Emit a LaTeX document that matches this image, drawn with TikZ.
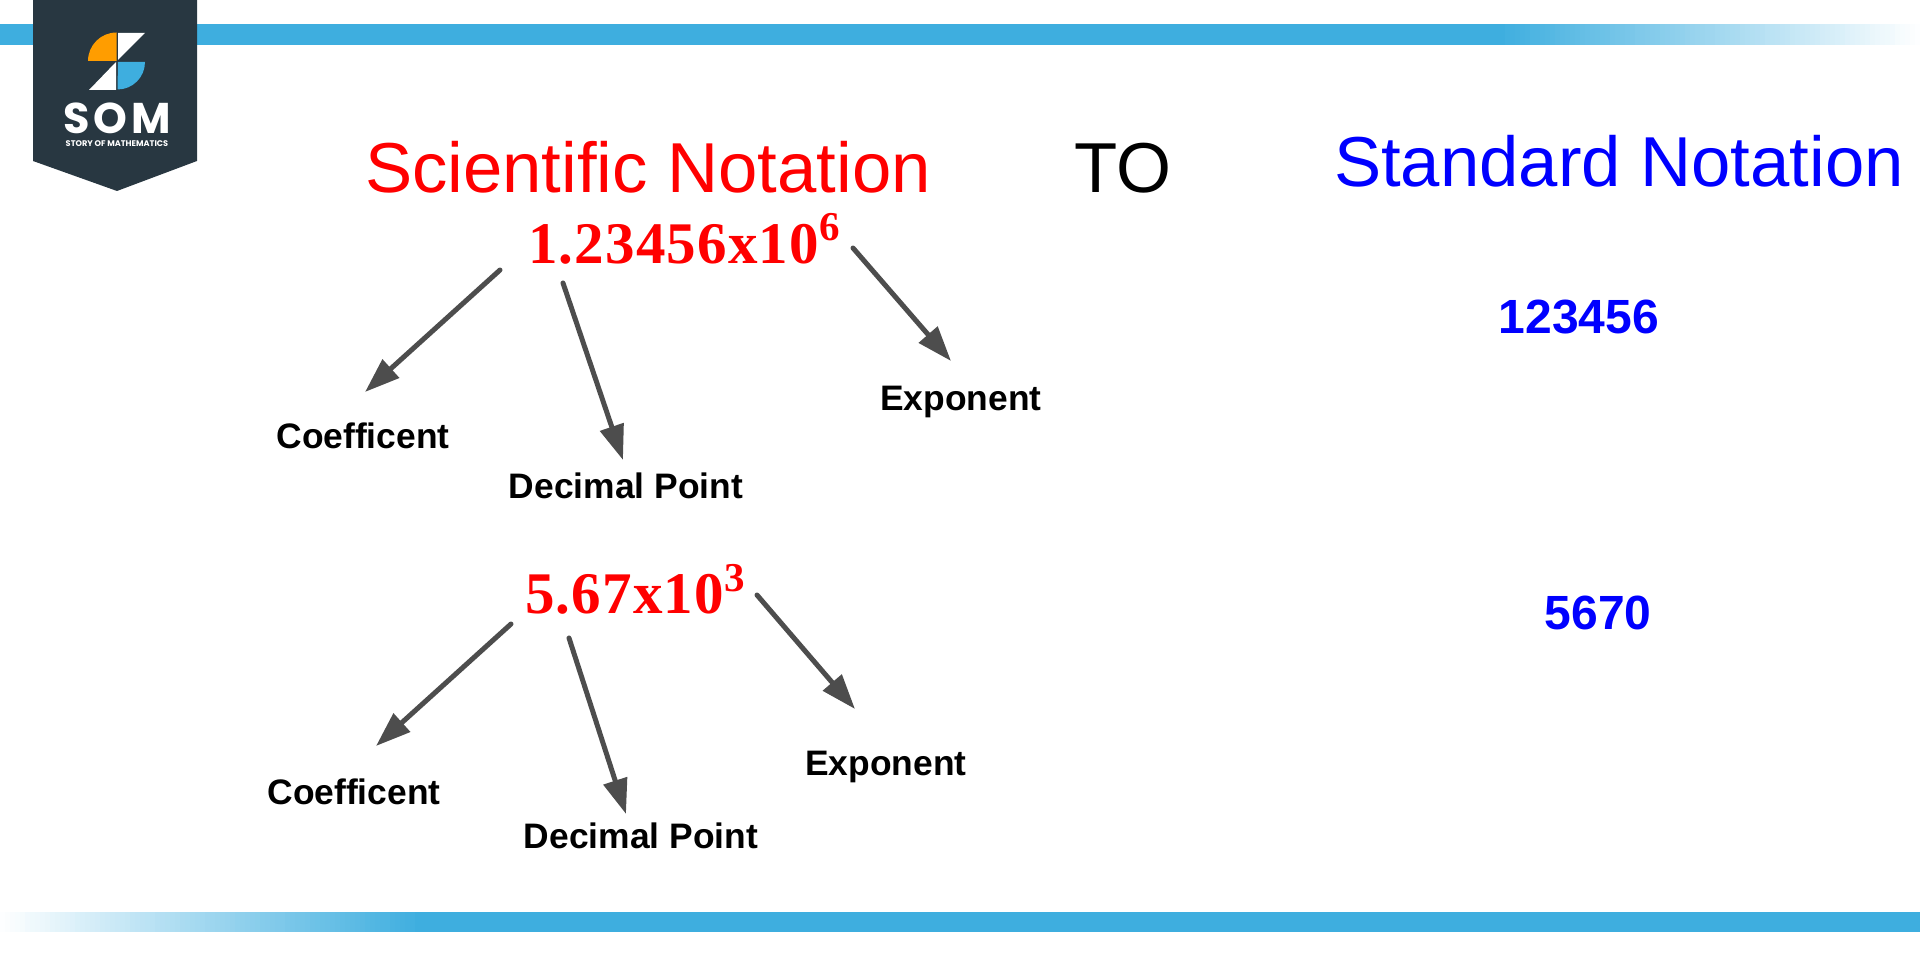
\documentclass[tikz,border=0pt]{standalone}
\usepackage{xcolor}
\usepackage{fontspec}
\usepackage{tikz}
\usetikzlibrary{arrows.meta,calc}
\newfontfamily\arialfont{Liberation Sans}
\newfontfamily\logofont{Poppins}
\newfontfamily\numfont[LetterSpace=2]{Liberation Serif}
\definecolor{barblue}{RGB}{62,174,223}
\definecolor{logodark}{RGB}{40,55,65}
\definecolor{logoorange}{RGB}{255,157,0}
\definecolor{arrowgray}{RGB}{77,77,77}
\definecolor{notationblue}{RGB}{0,0,255}
\definecolor{notationred}{RGB}{255,0,0}
\newcommand{\expo}[1]{\raisebox{22pt}{\fontsize{41}{41}\selectfont #1}}
\tikzset{
    title/.style={inner sep=0pt, anchor=base, font=\arialfont\fontsize{70.7}{71}\selectfont},
    number/.style={inner sep=0pt, anchor=base, text=notationred, font=\numfont\bfseries\fontsize{59}{59}\selectfont},
    result/.style={inner sep=0pt, anchor=base, text=notationblue, font=\arialfont\bfseries\fontsize{48}{48}\selectfont},
    part/.style={inner sep=0pt, anchor=base, font=\arialfont\bfseries\fontsize{35.4}{36}\selectfont},
    partarrow/.style={draw=arrowgray, line width=5pt, line cap=round, -{Triangle[length=35pt,width=24pt]}},
}
\begin{document}
\begin{tikzpicture}[x=1pt,y=-1pt]
        \useasboundingbox (0,0) rectangle (1920,960);
        \fill[barblue] (0,24) rectangle (1500,45);
        \fill[barblue] (420,912) rectangle (1920,932);
        \foreach \i in {0,...,83} {
            \pgfmathtruncatemacro{\pct}{100-\i*100/84}
            \fill[barblue!\pct!white] (1500+\i*5,24) rectangle (1506+\i*5,45);
            \fill[barblue!\pct!white] (420-\i*5,912) rectangle (414-\i*5,932);
        }

        \fill[logodark] (33,0) -- (197,0) -- (197,161) -- (117,191) -- (33,161) -- cycle;
        \fill[logoorange] (88,61) arc (180:270:28.5) -- (116.5,61) -- cycle;
        \fill[white] (118,33) -- (145,33) -- (118,60) -- cycle;
        \fill[barblue] (118,62) -- (145,62) arc (0:90:27.5) -- cycle;
        \fill[white] (116,62) -- (116,90) -- (89,90) -- cycle;
        \node[inner sep=0pt, anchor=base, text=white, text height=30pt, text depth=0pt, font=\logofont\fontsize{43}{43}\selectfont\bfseries] (somname) at (117,134) {S\kern4pt O\kern4pt M};
        \node[inner sep=0pt, anchor=base, text=white, text height=6pt, text depth=0pt, font=\logofont\fontsize{8.2}{8}\selectfont\bfseries] (somtag) at (117,147) {STORY OF MATHEMATICS};

        \node[title, text=notationred] (scientific) at (648,193) {Scientific Notation};
        \node[title] (to) at (1123,193) {TO};
        \node[title, text=notationblue] (standard) at (1619,187) {Standard Notation};

        \node[number] (num1) at (684,263) {1.23456x10\expo{6}};
        \node[part] (coef1) at (363,448) {Coefficent};
        \node[part] (dec1) at (626,498) {Decimal Point};
        \node[part] (exp1) at (961,410) {Exponent};
        \draw[partarrow] ([shift={(-184,7)}]num1.base) -- ([shift={(2,-56)}]coef1.base);
        \draw[partarrow] ([shift={(-121,20)}]num1.base) -- ([shift={(-3,-38)}]dec1.base);
        \draw[partarrow] ([shift={(169,-15)}]num1.base) -- ([shift={(-10,-49)}]exp1.base);

        \node[number] (num2) at (635,613) {5.67x10\expo{3}};
        \node[part] (coef2) at (354,804) {Coefficent};
        \node[part] (dec2) at (641,848) {Decimal Point};
        \node[part] (exp2) at (886,775) {Exponent};
        \draw[partarrow] ([shift={(-124,11)}]num2.base) -- ([shift={(22,-58)}]coef2.base);
        \draw[partarrow] ([shift={(-66,25)}]num2.base) -- ([shift={(-15,-34)}]dec2.base);
        \draw[partarrow] ([shift={(122,-18)}]num2.base) -- ([shift={(-31,-66)}]exp2.base);

        \node[result] (res1) at (1579,333) {123456};
        \node[result] (res2) at (1598,629) {5670};
    \end{tikzpicture}
\end{document}
